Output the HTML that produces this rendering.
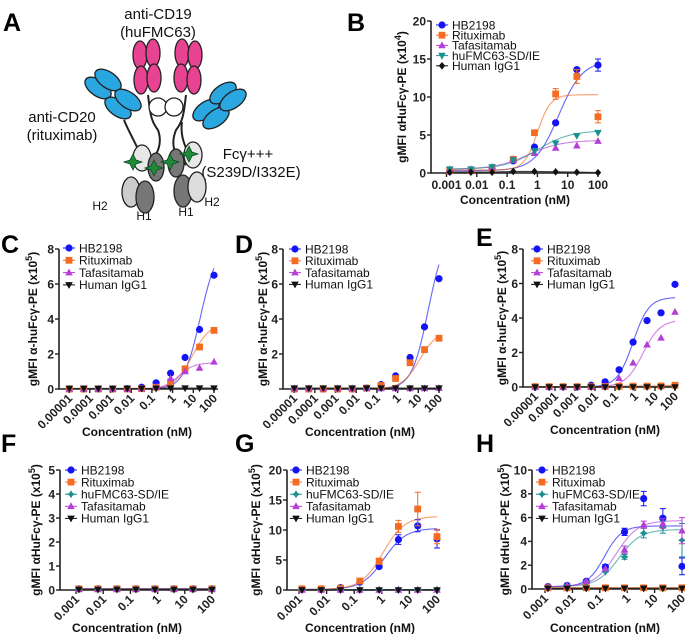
<!DOCTYPE html>
<html><head><meta charset="utf-8"><style>
html,body{margin:0;padding:0;background:#fff;}
svg{display:block;font-family:"Liberation Sans",Arial,sans-serif;}
.tk{font-weight:bold;font-size:12px;fill:#222;}
.tt{font-weight:bold;font-size:12px;fill:#111;}
.lg{font-size:12px;fill:#111;}
.pl{font-weight:bold;font-size:25px;fill:#000;}
.dg{font-size:15px;fill:#111;}
</style></head><body>
<svg id="fig" width="685" height="634" viewBox="0 0 685 634" xmlns="http://www.w3.org/2000/svg">
<g>
<text class="pl" x="3" y="31">A</text>
<text class="dg" x="158" y="19" text-anchor="middle">anti-CD19</text>
<text class="dg" x="158" y="37" text-anchor="middle">(huFMC63)</text>
<text class="dg" x="62" y="122" text-anchor="middle">anti-CD20</text>
<text class="dg" x="62" y="140" text-anchor="middle">(rituximab)</text>
<text class="dg" x="248" y="159" text-anchor="middle">Fcγ+++</text>
<text class="dg" x="251" y="177" text-anchor="middle">(S239D/I332E)</text>
<text class="lg" x="100" y="210" text-anchor="middle" font-size="13">H2</text>
<text class="lg" x="144" y="220" text-anchor="middle" font-size="13">H1</text>
<text class="lg" x="186" y="216" text-anchor="middle" font-size="13">H1</text>
<text class="lg" x="212" y="206" text-anchor="middle" font-size="13">H2</text>
<g stroke="#222" stroke-width="2" fill="none">
<path d="M148,95 C150,110 150,120 158,130 C165,150 150,160 148,170"/>
<path d="M186,95 C184,110 184,120 176,130 C168,150 180,160 186,165"/>
<path d="M124,120 C130,135 140,150 142,160"/>
<path d="M182,122 C180,135 185,148 190,155"/>
</g>
<g stroke="#222" stroke-width="1.3">
<ellipse cx="142" cy="158" rx="9" ry="13" fill="#e8e8e8"/>
<ellipse cx="193" cy="155" rx="9" ry="13" fill="#e8e8e8"/>
<ellipse cx="156" cy="167" rx="8" ry="14" fill="#777"/>
<ellipse cx="176" cy="163" rx="8" ry="14" fill="#777"/>
<ellipse cx="131" cy="192" rx="9" ry="15" fill="#ccc"/>
<ellipse cx="145" cy="197" rx="9" ry="16" fill="#777"/>
<ellipse cx="183" cy="191" rx="9" ry="16" fill="#777"/>
<ellipse cx="197" cy="187" rx="9" ry="15" fill="#ddd"/>
<circle cx="158" cy="107" r="9" fill="#fff"/>
<circle cx="174" cy="107" r="9" fill="#fff"/>
<ellipse cx="140" cy="55" rx="7" ry="14" fill="#e84393"/>
<ellipse cx="153" cy="53" rx="7" ry="14" fill="#e84393"/>
<ellipse cx="141" cy="80" rx="7" ry="14" fill="#e84393"/>
<ellipse cx="154" cy="78" rx="7" ry="14" fill="#e84393"/>
<ellipse cx="182" cy="53" rx="7" ry="14" fill="#e84393"/>
<ellipse cx="195" cy="55" rx="7" ry="14" fill="#e84393"/>
<ellipse cx="181" cy="78" rx="7" ry="14" fill="#e84393"/>
<ellipse cx="194" cy="80" rx="7" ry="14" fill="#e84393"/>
<ellipse cx="98" cy="88" rx="15" ry="8" transform="rotate(35 98 88)" fill="#2aa6e0"/>
<ellipse cx="108" cy="80" rx="15" ry="8" transform="rotate(35 108 80)" fill="#2aa6e0"/>
<ellipse cx="118" cy="108" rx="15" ry="8" transform="rotate(35 118 108)" fill="#2aa6e0"/>
<ellipse cx="128" cy="100" rx="15" ry="8" transform="rotate(35 128 100)" fill="#2aa6e0"/>
<ellipse cx="206" cy="110" rx="15" ry="8" transform="rotate(-35 206 110)" fill="#2aa6e0"/>
<ellipse cx="216" cy="118" rx="15" ry="8" transform="rotate(-35 216 118)" fill="#2aa6e0"/>
<ellipse cx="223" cy="93" rx="15" ry="8" transform="rotate(-35 223 93)" fill="#2aa6e0"/>
<ellipse cx="233" cy="100" rx="15" ry="8" transform="rotate(-35 233 100)" fill="#2aa6e0"/>
</g>
<g fill="#1f8a3b" stroke="#0d4a1d" stroke-width="0.8">
<path d="M133,154 l3,6 6,2 -6,2 -3,6 -3,-6 -6,-2 6,-2z"/>
<path d="M154,160 l3,6 6,2 -6,2 -3,6 -3,-6 -6,-2 6,-2z"/>
<path d="M170,154 l3,6 6,2 -6,2 -3,6 -3,-6 -6,-2 6,-2z"/>
<path d="M189,146 l3,6 6,2 -6,2 -3,6 -3,-6 -6,-2 6,-2z"/>
</g>
</g>
<text class="pl" x="347" y="31">B</text>
<text class="pl" x="1" y="253">C</text>
<text class="pl" x="235" y="253">D</text>
<text class="pl" x="476" y="246">E</text>
<text class="pl" x="1" y="452">F</text>
<text class="pl" x="235" y="452">G</text>
<text class="pl" x="476" y="452">H</text>
</svg>
<script>
// ---------- data ----------
const conc8 = [0.00128,0.0064,0.032,0.16,0.8,4,20,100];
const conc11 = [1.024e-5,5.12e-5,2.56e-4,1.28e-3,6.4e-3,0.032,0.16,0.8,4,20,100];
const ticks8 = ["0.001","0.01","0.1","1","10","100"];
const tickVals8 = [0.001,0.01,0.1,1,10,100];
const ticks11 = ["0.00001","0.0001","0.001","0.01","0.1","1","10","100"];
const tickVals11 = [1e-5,1e-4,1e-3,0.01,0.1,1,10,100];
// Panel B (x10^4)
const bHB = [0.2,0.3,0.6,1.6,3.4,6.6,13.6,14.2];
const bRitux = [0.3,0.3,0.5,1.8,5.3,10.4,12.7,7.4];
const bTafa = [0.5,0.5,0.8,1.8,2.6,3.3,3.6,4.2];
const bFMC = [0.5,0.5,0.8,1.7,2.9,3.9,4.9,5.3];
const bIgG = [0.1,0.1,0.1,0.2,0.2,0.15,0.1,0.05];
const bErrHB = [0,0,0,0,0,0,0,0.8];
const bErrRitux = [0,0,0,0,0,0.7,0.9,0.8];
const fitB_HB = [0.3,14.8,5,1.1];
const fitB_Ritux = [0.4,10.3,1.0,2];
const fitB_Tafa = [0.5,4.3,0.5,0.8];
const fitB_FMC = [0.5,5.6,1.0,0.8];
// Panel C (x10^5)
const cHB = [0,0,0,0,0.02,0.1,0.35,0.9,1.8,3.4,6.5];
const cRitux = [0,0,0,0,0,0.02,0.1,0.4,1.15,2.4,3.35];
const cTafa = [0,0,0,0,0,0.02,0.1,0.6,1.0,1.2,1.55];
const cIgG = [0.03,0.03,0.03,0.03,0.03,0.03,0.03,0.05,0.05,0.05,0.05];
const fitC_HB = [0,8.2,22,1.1];
const fitC_Ritux = [0,3.8,9,1];
const fitC_Tafa = [0,1.5,2,1.2];
// Panel D
const dHB = [0,0,0,0,0,0.05,0.25,0.75,1.8,3.55,6.3];
const dRitux = [0,0,0,0,0,0.05,0.2,0.6,1.5,2.25,2.9];
const dTafa = [0.03,0.03,0.03,0.03,0.03,0.03,0.03,0.03,0.03,0.03,0.05];
const dIgG = [0.05,0.05,0.05,0.05,0.05,0.05,0.05,0.05,0.05,0.05,0.05];
const fitD_HB = [0,9,30,1.1];
const fitD_Ritux = [0,3.4,12,1];
// Panel E
const eHB = [0,0,0,0,0.1,0.3,1.0,2.6,3.85,4.3,5.95];
const eRitux = [0.02,0.02,0.02,0.02,0.02,0.03,0.04,0.05,0.05,0.06,0.1];
const eTafa = [0,0,0,0,0,0.05,0.5,1.4,2.45,2.85,4.35];
const eIgG = [0,0,0,0,0,0,0,0,0,0,0];
const fitE_HB = [0,5.2,0.8,1.1];
const fitE_Tafa = [0,3.9,2.5,1];
// Panel F
const fHB = [0.05,0.05,0.05,0.05,0.05,0.05,0.05,0.05];
const fRitux = [0.05,0.05,0.05,0.05,0.05,0.05,0.05,0.05];
const fFMC = [0.04,0.04,0.04,0.04,0.04,0.04,0.04,0.04];
const fTafa = [0.03,0.03,0.03,0.03,0.03,0.03,0.03,0.03];
const fIgG = [0.02,0.02,0.02,0.02,0.02,0.02,0.02,0.02];
// Panel G
const gHB = [0.1,0.1,0.4,1.3,3.9,8.4,10.7,8.5];
const gRitux = [0.2,0.2,0.3,1.5,4.8,10.6,13.5,8.9];
const gFMC = [0.05,0.05,0.05,0.05,0.05,0.05,0.05,0.05];
const gTafa = [0,0,0,0,0,0,0,0];
const gIgG = [0,0,0,0,0,0,0,0];
const gErrHB = [0,0,0,0,0.3,0.8,1.0,1.5];
const gErrRitux = [0,0,0,0,0.5,1.0,2.8,1.2];
const fitG_HB = [0.1,10.3,1.2,1.1];
const fitG_Ritux = [0.1,12.3,1.1,1.1];
// Panel H
const hHB = [0.2,0.3,0.65,1.85,4.8,7.6,5.95,1.9];
const hRitux = [0.1,0.1,0.1,0.1,0.1,0.1,0.1,0.1];
const hFMC = [0.2,0.3,0.65,1.45,2.7,4.7,5.2,4.1];
const hTafa = [0.2,0.3,0.65,1.7,3.3,5.4,5.5,4.9];
const hIgG = [0.05,0.05,0.05,0.05,0.05,0.05,0.05,0.05];
const hErrHB = [0,0,0,0.2,0.3,0.6,0.8,0.7];
const hErrFMC = [0,0,0,0,0.2,0.4,0.5,1.4];
const hErrTafa = [0,0,0,0,0.3,0.3,0.4,1.1];
const fitH_HB = [0.2,5.3,0.15,1.4];
const fitH_FMC = [0.2,5.0,0.5,1.1];
const fitH_Tafa = [0.2,5.75,0.4,1.1];

// ---------- drawing ----------
const NS = "http://www.w3.org/2000/svg";
const svg = document.getElementById("fig");
const C = {blue:"#1414f5", orange:"#f36c21", purple:"#b43fd6", teal:"#1a9090", black:"#111"};
function el(tag, attrs, parent){const e=document.createElementNS(NS,tag);for(const k in attrs)e.setAttribute(k,attrs[k]);(parent||svg).appendChild(e);return e;}
function marker(g,type,x,y,color){
  let m;
  if(type==="circle") m=el("circle",{cx:x,cy:y,r:3.6,fill:color},g);
  else if(type==="square") m=el("rect",{x:x-3.4,y:y-3.4,width:6.8,height:6.8,fill:color},g);
  else if(type==="up") m=el("path",{d:`M${x},${y-4}L${x+3.8},${y+2.8}L${x-3.8},${y+2.8}Z`,fill:color},g);
  else if(type==="down") m=el("path",{d:`M${x},${y+4}L${x+3.8},${y-2.8}L${x-3.8},${y-2.8}Z`,fill:color},g);
  else if(type==="diamond") m=el("path",{d:`M${x},${y-3.8}L${x+3.2},${y}L${x},${y+3.8}L${x-3.2},${y}Z`,fill:color},g);
  else m=el("path",{d:`M${x},${y-4}L${x+1.5},${y-1.5}L${x+4},${y}L${x+1.5},${y+1.5}L${x},${y+4}L${x-1.5},${y+1.5}L${x-4},${y}L${x-1.5},${y-1.5}Z`,fill:color},g);
  
  
  return m;
}
function drawPanel(p){
  const g=el("g",{});
  
  
  const sx=v=>p.x100-(2-Math.log10(v))*p.dec;
  const sy=v=>p.y0-v*(p.y0-p.yTop)/p.ymax;
  p.series.forEach(s=>{
    if(!s.fit) return;
    const [b,t,ec,h]=s.fit; let d="";
    const lo=Math.log10(p.xs[0]);
    for(let i=0;i<=120;i++){const lx=lo+(2-lo)*i/120;const x=Math.pow(10,lx);const y=b+(t-b)/(1+Math.pow(ec/x,h));d+=(i?"L":"M")+sx(x).toFixed(1)+","+sy(y).toFixed(1);}
    const c=el("path",{d:d,fill:"none",stroke:s.color,"stroke-width":1.1,"stroke-opacity":0.65},g);
    
    
  });
  p.series.forEach(s=>{
    if(s.fit) return;
    let d="";s.vals.forEach((v,i)=>{d+=(i?"L":"M")+sx(p.xs[i]).toFixed(1)+","+sy(v).toFixed(1);});
    const l=el("path",{d:d,fill:"none",stroke:s.color,"stroke-width":1.3,"stroke-opacity":0.8},g);
    
    
  });
  const ax=el("path",{d:`M${p.ax},${p.yTop}L${p.ax},${p.y0}L${p.xEnd},${p.y0}`,fill:"none",stroke:"#222","stroke-width":1.6},g);
  
  
  p.yTicks.forEach((v,i)=>{
    el("line",{x1:p.ax-4,x2:p.ax,y1:sy(v),y2:sy(v),stroke:"#222","stroke-width":1.4},g);
    if(p.yLabels[i]!==""){
      const t=el("text",{x:p.ax-5,y:sy(v)+4.3,class:"tk","text-anchor":"end"},g);t.textContent=p.yLabels[i];
      
      
    }
  });
  p.xTickVals.forEach((v,i)=>{
    const x=sx(v);
    el("line",{x1:x,x2:x,y1:p.y0,y2:p.y0+4,stroke:"#222","stroke-width":1.4},g);
    let t;
    if(p.rot){t=el("text",{x:x+4,y:p.y0+10,class:"tk","text-anchor":"end",transform:`rotate(-45 ${x+4} ${p.y0+10})`},g);}
    else{t=el("text",{x:x,y:p.y0+16,class:"tk","text-anchor":"middle"},g);}
    t.textContent=p.xTickLabels[i];
    
    
  });
  p.series.forEach(s=>{
    const sg=el("g",{},g);
    
    
    s.vals.forEach((v,i)=>{
      const x=sx(p.xs[i]),y=sy(v);
      if(s.err&&s.err[i]>0){const e=s.err[i];el("path",{d:`M${x},${sy(v-e)}L${x},${sy(v+e)}M${x-3},${sy(v+e)}L${x+3},${sy(v+e)}M${x-3},${sy(v-e)}L${x+3},${sy(v-e)}`,stroke:s.color,"stroke-width":1,fill:"none"},sg);}
      marker(sg,s.marker,x,y,s.color);
    });
  });
  p.series.forEach((s,i)=>{
    const y=p.legY+i*p.legDy;
    const lg=el("g",{},g);
    
    
    el("line",{x1:p.legX-6,x2:p.legX+6,y1:y,y2:y,stroke:s.color,"stroke-width":1},lg);
    marker(lg,s.marker,p.legX,y,s.color);
    const t=el("text",{x:p.legX+10,y:y+4.3,class:"lg"},lg);t.textContent=s.name;
  });
  const xt=el("text",{x:p.xtX,y:p.xtY,class:"tt","text-anchor":"middle"},g);xt.textContent="Concentration (nM)";
  
  
  const ym=(p.y0+p.yTop)/2;
  const yt=el("text",{x:p.ytX,y:ym,class:"tt","text-anchor":"middle",transform:`rotate(-90 ${p.ytX} ${ym})`},g);
  
  
  yt.appendChild(document.createTextNode(p.ytitle+" (x10"));
  const sup=el("tspan",{dy:-5,"font-size":"9px"},yt);sup.textContent=p.exp;
  const cl=el("tspan",{dy:5},yt);cl.textContent=")";
}
const S=(key,name,color,mk,vals,fit,err)=>({key,name,color,marker:mk,vals,fit,err});
const TH="gMFI α-huFcγ-PE", TB="gMFI αHuFcγ-PE";
drawPanel({name:"panel-b-chart",xs:conc8,ax:431,x100:598,dec:30.3,xEnd:600,y0:173,yTop:21,ymax:20,yTicks:[0,5,10,15,20],yLabels:["0","5","10","15","20"],xTickVals:tickVals8,xTickLabels:ticks8,rot:false,legX:442,legY:25,legDy:10.2,xtX:515,xtY:204,ytX:406,ytitle:TB,exp:"4",
 series:[S("hb2198","HB2198",C.blue,"circle",bHB,fitB_HB,bErrHB),S("rituximab","Rituximab",C.orange,"square",bRitux,fitB_Ritux,bErrRitux),S("tafasitamab","Tafasitamab",C.purple,"up",bTafa,fitB_Tafa),S("hufmc63","huFMC63-SD/IE",C.teal,"down",bFMC,fitB_FMC),S("igg1","Human IgG1",C.black,"diamond",bIgG,null)]});
drawPanel({name:"panel-c-chart",xs:conc11,ax:59,x100:214,dec:20.7,xEnd:218,y0:389,yTop:249,ymax:8,yTicks:[0,2,4,6,8],yLabels:["0","2","4","6","8"],xTickVals:tickVals11,xTickLabels:ticks11,rot:true,legX:69,legY:248,legDy:12.3,xtX:137,xtY:436,ytX:37,ytitle:TH,exp:"5",
 series:[S("hb2198","HB2198",C.blue,"circle",cHB,fitC_HB),S("rituximab","Rituximab",C.orange,"square",cRitux,fitC_Ritux),S("tafasitamab","Tafasitamab",C.purple,"up",cTafa,fitC_Tafa),S("igg1","Human IgG1",C.black,"down",cIgG,null)]});
drawPanel({name:"panel-d-chart",xs:conc11,ax:283,x100:439,dec:20.7,xEnd:442,y0:389,yTop:249,ymax:8,yTicks:[0,2,4,6,8],yLabels:["","2","4","6","8"],xTickVals:tickVals11,xTickLabels:ticks11,rot:true,legX:295,legY:249,legDy:11.8,xtX:360,xtY:436,ytX:267,ytitle:TH,exp:"5",
 series:[S("hb2198","HB2198",C.blue,"circle",dHB,fitD_HB),S("rituximab","Rituximab",C.orange,"square",dRitux,fitD_Ritux),S("tafasitamab","Tafasitamab",C.purple,"up",dTafa,null),S("igg1","Human IgG1",C.black,"down",dIgG,null)]});
drawPanel({name:"panel-e-chart",xs:conc11,ax:523,x100:675,dec:20,xEnd:678,y0:387,yTop:249,ymax:8,yTicks:[0,2,4,6,8],yLabels:["0","2","4","6","8"],xTickVals:tickVals11,xTickLabels:ticks11,rot:true,legX:537,legY:249,legDy:11.8,xtX:605,xtY:434,ytX:506,ytitle:TH,exp:"5",
 series:[S("hb2198","HB2198",C.blue,"circle",eHB,fitE_HB),S("rituximab","Rituximab",C.orange,"square",eRitux,null),S("tafasitamab","Tafasitamab",C.purple,"up",eTafa,fitE_Tafa),S("igg1","Human IgG1",C.black,"down",eIgG,null)]});
drawPanel({name:"panel-f-chart",xs:conc8,ax:60,x100:212,dec:27.2,xEnd:215,y0:590,yTop:470,ymax:5,yTicks:[0,1,2,3,4,5],yLabels:["0","1","2","3","4","5"],xTickVals:tickVals8,xTickLabels:ticks8,rot:true,legX:71,legY:470,legDy:12.1,xtX:127,xtY:632,ytX:40,ytitle:TB,exp:"5",
 series:[S("hb2198","HB2198",C.blue,"circle",fHB,null),S("rituximab","Rituximab",C.orange,"square",fRitux,null),S("hufmc63","huFMC63-SD/IE",C.teal,"star",fFMC,null),S("tafasitamab","Tafasitamab",C.purple,"up",fTafa,null),S("igg1","Human IgG1",C.black,"down",fIgG,null)]});
drawPanel({name:"panel-g-chart",xs:conc8,ax:287,x100:437,dec:27.6,xEnd:440,y0:590,yTop:470,ymax:20,yTicks:[0,5,10,15,20],yLabels:["0","5","10","15","20"],xTickVals:tickVals8,xTickLabels:ticks8,rot:true,legX:296,legY:470,legDy:12.1,xtX:360,xtY:632,ytX:260,ytitle:TB,exp:"5",
 series:[S("hb2198","HB2198",C.blue,"circle",gHB,fitG_HB,gErrHB),S("rituximab","Rituximab",C.orange,"square",gRitux,fitG_Ritux,gErrRitux),S("hufmc63","huFMC63-SD/IE",C.teal,"star",gFMC,null),S("tafasitamab","Tafasitamab",C.purple,"up",gTafa,null),S("igg1","Human IgG1",C.black,"down",gIgG,null)]});
drawPanel({name:"panel-h-chart",xs:conc8,ax:532,x100:682,dec:27.4,xEnd:685,y0:589,yTop:470,ymax:10,yTicks:[0,2,4,6,8,10],yLabels:["0","2","4","6","8","10"],xTickVals:tickVals8,xTickLabels:ticks8,rot:true,legX:542,legY:470,legDy:12.1,xtX:605,xtY:632,ytX:509,ytitle:TB,exp:"5",
 series:[S("hb2198","HB2198",C.blue,"circle",hHB,fitH_HB,hErrHB),S("rituximab","Rituximab",C.orange,"square",hRitux,null),S("hufmc63","huFMC63-SD/IE",C.teal,"star",hFMC,fitH_FMC,hErrFMC),S("tafasitamab","Tafasitamab",C.purple,"up",hTafa,fitH_Tafa,hErrTafa),S("igg1","Human IgG1",C.black,"down",hIgG,null)]});
</script>
</body></html>
